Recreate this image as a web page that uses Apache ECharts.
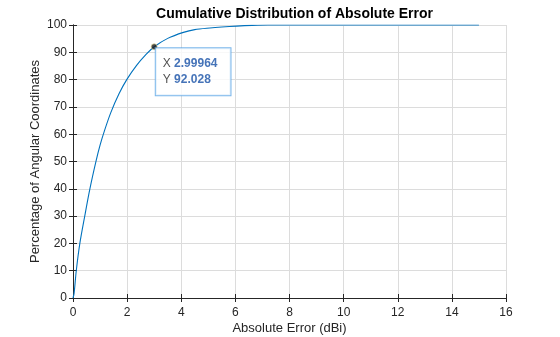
<!DOCTYPE html>
<html>
<head>
<meta charset="utf-8">
<script src="https://cdn.jsdelivr.net/npm/echarts@6/dist/echarts.min.js"></script>
<style>html,body{margin:0;padding:0;background:#fff}#c{width:560px;height:337px}</style>
</head>
<body>
<div id="c"></div>
<script>
// Data
var errX = [0, 0.04, 0.12, 0.25, 0.43, 0.62, 0.84, 1.0, 1.17, 1.4, 1.7, 1.98, 2.35, 2.7, 2.99964, 3.5, 4.08, 4.5, 5.06, 5.5, 6.05, 6.6, 7.2, 8, 10, 12, 15];
var cdfY = [0, 1.7, 9.9, 19.8, 29.8, 39.8, 49.7, 56, 61.5, 68, 74.8, 79.9, 85.2, 89.2, 92.028, 95.1, 97.3, 98.3, 98.9, 99.25, 99.6, 99.85, 100, 100, 100, 100, 100];
var tipX = 2.99964;
var tipY = 92.028;
var xTicks = [0, 2, 4, 6, 8, 10, 12, 14, 16];
var yTicks = [0, 10, 20, 30, 40, 50, 60, 70, 80, 90, 100];

var lineData = errX.map(function (x, i) { return [x, cdfY[i]]; });
var font = 'Liberation Sans, Arial, Helvetica, sans-serif';
var axisCol = '#262626';
var chart = echarts.init(document.getElementById('c'), null, {renderer: 'canvas'});
var baseX = {
  type: 'value', min: 0, max: 16, interval: 2,
  axisLine: {show: true, lineStyle: {color: axisCol, width: 1}},
  axisTick: {show: true, inside: true, length: 4, lineStyle: {color: axisCol}},
  splitLine: {show: false}
};
var baseY = {
  type: 'value', min: 0, max: 100, interval: 10,
  axisLine: {show: true, lineStyle: {color: axisCol, width: 1}},
  axisTick: {show: true, inside: true, length: 4, lineStyle: {color: axisCol}},
  splitLine: {show: false}
};
chart.setOption({
  animation: false,
  backgroundColor: '#ffffff',
  title: {
    text: 'Cumulative Distribution of Absolute Error',
    left: 289.5, textAlign: 'center', top: 2,
    textStyle: {fontFamily: font, fontSize: 14, fontWeight: 'bold', color: '#000'}
  },
  grid: {left: 73, right: 54, top: 25, bottom: 39, containLabel: false, outerBoundsMode: 'none'},
  xAxis: [
    Object.assign({}, baseX, {
      position: 'bottom',
      name: 'Absolute Error (dBi)', nameLocation: 'middle', nameGap: 24, nameMoveOverlap: false,
      nameTextStyle: {fontFamily: font, fontSize: 13, color: axisCol},
      axisLabel: {fontFamily: font, fontSize: 12, color: axisCol, margin: 9,
        formatter: function (v) { return xTicks.indexOf(v) >= 0 ? String(v) : ''; }},
      splitLine: {show: true, lineStyle: {color: '#dcdcdc', width: 1}}
    }),
    Object.assign({}, baseX, {position: 'top', axisLabel: {show: false}})
  ],
  yAxis: [
    Object.assign({}, baseY, {
      position: 'left',
      name: 'Percentage of Angular Coordinates', nameLocation: 'middle', nameGap: 31, nameMoveOverlap: false,
      nameTextStyle: {fontFamily: font, fontSize: 13, color: axisCol},
      axisLabel: {fontFamily: font, fontSize: 12, color: axisCol, margin: 6,
        formatter: function (v) { return yTicks.indexOf(v) >= 0 ? String(v) : ''; }},
      splitLine: {show: true, lineStyle: {color: '#dcdcdc', width: 1}}
    }),
    Object.assign({}, baseY, {position: 'right', axisLabel: {show: false}})
  ],
  series: [
    {
      type: 'line', data: lineData, showSymbol: false, smooth: 0.3,
      lineStyle: {color: '#0072BD', width: 1.1}, z: 3
    },
    {
      type: 'scatter', data: [[tipX, tipY]], symbolSize: 6,
      itemStyle: {color: '#1a1a1a', borderColor: '#e8e0a0', borderWidth: 0.8},
      z: 5,
      label: {
        show: true, position: [5, 5],
        backgroundColor: '#ffffff', borderColor: '#5aa5e6', borderWidth: 1,
        padding: [7, 13, 8, 7],
        formatter: function () {
          return '{k|X }{v|' + tipX + '}\n{k|Y }{v|' + tipY + '}';
        },
        rich: {
          k: {fontFamily: font, fontSize: 12, color: '#262626', lineHeight: 16},
          v: {fontFamily: font, fontSize: 12, fontWeight: 'bold', color: '#1650a6', lineHeight: 16}
        }
      }
    }
  ]
});
</script>
</body>
</html>
